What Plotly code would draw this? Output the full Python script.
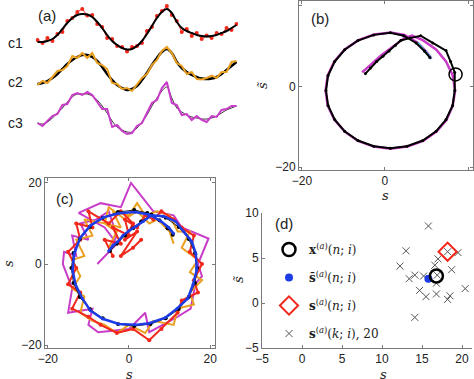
import plotly.graph_objects as go

W, H = 474, 379

# ---------------- panel (a): three channels, sample index 0..40 ----------------
t = list(range(41))
c1_true = [8, 8, 9, 11, 15, 21, 27, 32, 35, 36, 35.5, 33, 28, 22, 15, 9, 5, 2, 0.5, 1, 4, 9, 16, 24, 32, 38, 41, 37, 28, 22,
           19, 17, 15, 14, 13.5, 14, 15, 17, 19, 22, 25]
c1_obs = [10, 7, 12, 9, 16, 18, 29, 32, 38, 41, 34.5, 35, 26, 23, 12, 11, 4, 3, -1.5, 3, 4, 7, 19, 23, 34, 39, 44, 35, 29, 18,
          21, 14, 17, 11, 14.5, 12, 17, 16, 22, 20, 26]
c2_true = [11, 12, 14, 17, 21, 26, 31, 35, 38, 40, 40, 38, 34, 28, 21, 15, 10, 7, 5, 6, 9, 15, 22, 30, 37, 43, 46, 42, 33, 27,
           23, 20, 18, 16.5, 16, 16.5, 18, 21, 25, 29, 33]
c2_obs = [10, 14, 12, 18, 24, 25, 29, 39, 37, 42, 37, 42, 32, 30, 26, 12, 11, 6, 7, 4, 10, 17, 21, 30, 35, 44, 48, 42, 32, 29,
          21, 23, 16, 15.5, 17, 19.5, 17, 23, 23, 33, 34]
c3_true = [12, 11, 13, 17, 22, 27, 33, 38, 41, 41, 41, 39, 35, 29, 22, 14, 8, 5, 3, 3, 7, 13, 20, 29, 37, 44, 48, 37, 27, 23,
           20, 18, 17, 16, 16, 17, 19, 22, 25, 27, 29]
c3_obs = [12, 9, 14, 19, 21, 30, 31, 40, 42, 40, 43, 40, 33, 26, 26, 8, 10, 4, 1, 2, 9, 12, 22, 32, 35, 47, 53, 32, 30, 20,
          21, 15, 19, 15, 13, 19, 18, 25, 26, 29, 29]
channel_labels = ["c1", "c2", "c3"]
channel_offsets = [90, 45, 5]

# ---------------- panel (b): reconstructed trajectories ----------------
b_black_x = [-4.7, -3.5, -2, -0.5, 1, 2.5, 3.8, 6, 8.6, 11.5, 14.7, 15.8, 16.8, 16.8, 16.3, 14.7, 12.3, 9.1, 5.3, 1.3, -2.7,
             -6.5, -9.7, -12.1, -13.7, -14.2, -13.7, -12.1, -9.7, -6.5, -2.7, 1.3, 4.5, 7.5, 9.5, 10.8]
b_black_y = [3.2, 4.6, 6.2, 7.5, 8.8, 10.2, 11.4, 12.0, 12.6, 10.8, 8.9, 6.2, 3.5, -1, -4.7, -8.2, -11.1, -13.4, -14.8, -15.3,
             -14.8, -13.4, -11.1, -8.2, -4.7, -1, 2.7, 6.2, 9.1, 11.4, 12.8, 13.3, 12.6, 10.8, 8.8, 7.2]
b_mag_x = [-5.5, -4, -2.5, -0.8, 1, 2.8, 4.5, 6.5, 9.1, 12.3, 14.7, 16.3, 16.9, 16.3, 14.8, 12.4, 9.2, 5.4, 1.3, -2.7, -6.5,
           -9.7, -12.2, -13.8, -14.3, -13.8, -12.2, -9.7, -6.4, -2.6, 1.4, 4.7, 7.8, 9.9, 11.2]
b_mag_y = [3.5, 4.9, 6.4, 7.8, 9.2, 10.6, 11.9, 12.6, 11.5, 9.2, 6.2, 2.8, -1, -4.8, -8.3, -11.2, -13.5, -14.9, -15.4, -14.9,
           -13.5, -11.2, -8.2, -4.7, -1, 2.7, 6.2, 9.2, 11.5, 12.9, 13.4, 12.8, 10.9, 8.7, 6.9]
b_cyan_x = [7.8, 9.2, 10.3, 11.1]
b_cyan_y = [10.8, 9.3, 8.0, 6.9]
b_point_x = [17.0]
b_point_y = [3.0]

# ---------------- panel (c): noisy estimates ----------------
c_true_x = [-4.7, -3, -1, 1, 3, 5.5, 9.05, 12.26, 14.72, 16.27, 16.8, 16.27, 14.72, 12.26, 9.05, 5.31, 1.3, -2.71, -6.45,
            -9.66, -12.12, -13.67, -14.2, -13.67, -12.12, -9.66, -6.45, -2.71, 1.3, 4.5, 7.5, 9.5, 10.8]
c_true_y = [3.2, 5, 7, 8.8, 10.5, 12.2, 11.38, 9.11, 6.15, 2.7, -1, -4.7, -8.15, -11.11, -13.38, -14.81, -15.3, -14.81,
            -13.38, -11.11, -8.15, -4.7, -1, 2.7, 6.15, 9.11, 11.38, 12.81, 13.3, 12.6, 10.8, 8.8, 7.2]
c_red_x = [-4, -6, -2, -4, 0, -1, 2, 4, 6, 8, 11, 13, 16, 15, 18, 16, 17, 13, 12, 8, 5, 1, -3, -7, -10, -14, -12, -15, -13,
           -15, -12, -13, -9, -10, -5, -2, 1, -1, 2, -2, 1, 3]
c_red_y = [2, 6, 5, 9, 7, 11, 9, 12, 11, 13, 11, 9, 7, 3, 0, -4, -7, -9, -12, -16, -18.8, -16, -17, -15, -13, -11, -7, -5, -1,
           3, 6, 10, 9, 13, 10, 13, 10, 6, 8, 2, 4, 6]
c_orange_x = [-5, -3, -6, -2, -4, 0, 2, 4, 7, 10, 12, 15, 13, 17, 15, 18, 15, 16, 12, 11, 6, 4, 0, -3, -6, -9, -12, -11, -14,
              -12, -14, -11, -13, -9, -11, -6, -5, -1, 2, 5, 7, 10, 11]
c_orange_y = [4, 8, 10, 9, 13, 12, 15, 12, 13, 12, 8, 8, 4, 1, -2, -4, -7, -10, -11, -15, -14, -17, -15, -17, -15, -14, -12,
              -8, -6, -3, 1, 2, 6, 7, 11, 10, 14, 11, 13, 10, 11, 8, 5]
c_mag_x = [-7.8, -3, -6, -12.4, -7, -2, 0.5, 6, 11, 13, 19.6, 17, 18, 16.4, 15.2, 12, 5, 4, 0, -7.6, -10, -9, -15, -14, -16.3,
           -16, -13, -14, -10, -12, -8, -5, -3, -5]
c_mag_y = [0, 5, 9, 12.6, 15, 14, 20, 13, 12, 9, 6.3, 0, -3, -4.8, -11, -13, -16.8, -12, -16, -16.8, -15, -11, -12, -6, 0,
           3, 2, 7, 6, 10, 11, 13, 7, 3]
c_blue_x = [-5, -4, -2.8, -1.5, 0, 1.8, 3.5, 5.5, 8.5, 11.5, 13.5, 15.5, 16.5, 16.7, 15.8, 14.5, 11.8, 9, 5, 1.5, -2.5, -6.5,
            -9.5, -11.5, -13.2, -13.9, -13.5, -12, -9.5, -6.3, -2.5, 1.5, 4.8, 7.8, 9.8, 11]
c_blue_y = [3.2, 4.5, 5.5, 7, 8.2, 9.3, 10.5, 12, 11.8, 10.5, 8, 5.5, 2.5, -1.5, -5, -8.5, -11, -13.2, -14.6, -15, -14.8,
            -13.5, -11.5, -8.5, -5, -1.5, 2.5, 6.5, 9.5, 11.5, 12.5, 12.8, 12.2, 10.6, 9, 7.5]

# ---------------- panel (d): one time step ----------------
d_x_true = [16.8]
d_y_true = [3.0]
d_x_mean = [15.8]
d_y_mean = [2.7]
d_x_est = [18.2]
d_y_est = [5.7]
d_x_samp = [15.8, 13.0, 12.25, 13.4, 14.1, 15.2, 14.7, 15.5, 14.1, 16.8, 16.8, 16.6, 17.0, 18.5, 18.2, 18.7, 19.5, 20.4,
            16.9, 18.2]
d_y_samp = [8.56, 5.8, 4.1, 2.7, 3.1, 3.0, 1.4, 0.7, -1.6, 1.0, 2.2, 4.2, 4.9, 0.8, 0.4, 3.7, 5.6, 1.6, 3.1, 5.7]

legend_names = [
    "<b>x</b><sup>(<i>a</i>)</sup>(<i>n</i>; <i>i</i>)",
    "<b>s\u0304</b><sup>(<i>a</i>)</sup>(<i>n</i>; <i>i</i>)",
    "<b>s</b><sup>(<i>a</i>)</sup>(<i>n</i>; <i>i</i>)",
    "<b>s</b><sup>(<i>a</i>)</sup>(<i>k</i>; <i>i</i>), 20",
]

RED = "#F2281C"
ORANGE = "#E9A020"
MAG = "#C83CC8"
BLUE = "#1E3CE6"
CYAN = "#3CC8E6"
AX = "#7a7a7a"

fig = go.Figure()

# panel (a)
offs = channel_offsets
fig.add_trace(go.Scatter(x=t, y=[v + offs[0] for v in c1_obs], mode="lines+markers", line=dict(color=RED, width=1),
                         marker=dict(color=RED, size=4), xaxis="x", yaxis="y", showlegend=False))
fig.add_trace(go.Scatter(x=t, y=[v + offs[0] for v in c1_true], mode="lines", line=dict(color="black", width=2, shape="spline"),
                         xaxis="x", yaxis="y", showlegend=False))
fig.add_trace(go.Scatter(x=t, y=[v + offs[1] for v in c2_true], mode="lines", line=dict(color="black", width=2.5, shape="spline"),
                         xaxis="x", yaxis="y", showlegend=False))
fig.add_trace(go.Scatter(x=t, y=[v + offs[1] for v in c2_obs], mode="lines", line=dict(color=ORANGE, width=2),
                         xaxis="x", yaxis="y", showlegend=False))
fig.add_trace(go.Scatter(x=t, y=[v + offs[2] for v in c3_true], mode="lines", line=dict(color="#333", width=1, shape="spline"),
                         xaxis="x", yaxis="y", showlegend=False))
fig.add_trace(go.Scatter(x=t, y=[v + offs[2] for v in c3_obs], mode="lines", line=dict(color=MAG, width=2),
                         xaxis="x", yaxis="y", showlegend=False))

# panel (b)
fig.add_trace(go.Scatter(x=b_mag_x, y=b_mag_y, mode="lines", line=dict(color=MAG, width=2.5), xaxis="x2", yaxis="y2",
                         showlegend=False))
fig.add_trace(go.Scatter(x=b_cyan_x, y=b_cyan_y, mode="lines", line=dict(color=CYAN, width=2.5), xaxis="x2", yaxis="y2",
                         showlegend=False))
fig.add_trace(go.Scatter(x=b_black_x, y=b_black_y, mode="lines+markers", line=dict(color="black", width=2),
                         marker=dict(color="black", size=3), xaxis="x2", yaxis="y2", showlegend=False))
fig.add_trace(go.Scatter(x=b_point_x, y=b_point_y, mode="markers",
                         marker=dict(symbol="circle-open", size=13, color="black", line=dict(width=1.5)),
                         xaxis="x2", yaxis="y2", showlegend=False))

# panel (c)
fig.add_trace(go.Scatter(x=c_mag_x, y=c_mag_y, mode="lines", line=dict(color=MAG, width=2), xaxis="x3", yaxis="y3",
                         showlegend=False))
fig.add_trace(go.Scatter(x=c_orange_x, y=c_orange_y, mode="lines", line=dict(color=ORANGE, width=2), xaxis="x3", yaxis="y3",
                         showlegend=False))
fig.add_trace(go.Scatter(x=c_red_x, y=c_red_y, mode="lines+markers", line=dict(color=RED, width=2),
                         marker=dict(color=RED, size=4), xaxis="x3", yaxis="y3", showlegend=False))
fig.add_trace(go.Scatter(x=c_true_x, y=c_true_y, mode="lines+markers", line=dict(color="#222", width=1),
                         marker=dict(color="black", size=4), xaxis="x3", yaxis="y3", showlegend=False))
fig.add_trace(go.Scatter(x=c_blue_x, y=c_blue_y, mode="lines+markers", line=dict(color=BLUE, width=2.5),
                         marker=dict(color=BLUE, size=3), xaxis="x3", yaxis="y3", showlegend=False))

# panel (d)
fig.add_trace(go.Scatter(x=d_x_samp, y=d_y_samp, mode="markers", name=legend_names[3], legendgroup="g4", legendrank=4,
                         marker=dict(symbol="x-thin", size=7, color="#555", line=dict(width=1, color="#555")),
                         xaxis="x4", yaxis="y4"))
fig.add_trace(go.Scatter(x=d_x_mean, y=d_y_mean, mode="markers", name=legend_names[1], legendgroup="g2", legendrank=2,
                         marker=dict(symbol="circle", size=8, color=BLUE), xaxis="x4", yaxis="y4"))
fig.add_trace(go.Scatter(x=d_x_true, y=d_y_true, mode="markers", name=legend_names[0], legendgroup="g1", legendrank=1,
                         marker=dict(symbol="circle-open", size=13, color="black", line=dict(width=2.5)),
                         xaxis="x4", yaxis="y4"))
fig.add_trace(go.Scatter(x=d_x_est, y=d_y_est, mode="markers", name=legend_names[2], legendgroup="g3", legendrank=3,
                         marker=dict(symbol="diamond-open", size=14, color=RED, line=dict(width=2)),
                         xaxis="x4", yaxis="y4"))


def px_x(p):
    return p / W


def px_y(p):
    return 1 - p / H


tickfont = dict(family="Liberation Sans, Arial, sans-serif", size=12, color="#222")
box = dict(showline=True, linecolor=AX, linewidth=1, mirror="allticks", ticks="inside", ticklen=3, tickcolor=AX,
           showgrid=False, zeroline=False, tickfont=tickfont)

fig.update_layout(
    width=W, height=H, margin=dict(l=0, r=0, t=0, b=0, autoexpand=False),
    paper_bgcolor="white", plot_bgcolor="white",
    xaxis=dict(domain=[px_x(36), px_x(238)], range=[-0.3, 40.3], visible=False),
    yaxis=dict(domain=[px_y(140), px_y(0)], range=[0, 140], visible=False),
    xaxis2=dict(domain=[px_x(299), px_x(473)], range=[-20.7, 21.2], tickvals=[-20, 0, 20], anchor="y2", **box),
    yaxis2=dict(domain=[px_y(170), px_y(1)], range=[-20.7, 21.2], tickvals=[-20, 0, 20], anchor="x2", **box),
    xaxis3=dict(domain=[px_x(45), px_x(215)], range=[-20.7, 21.2], tickvals=[-20, 0, 20], anchor="y3", **box),
    yaxis3=dict(domain=[px_y(348), px_y(178)], range=[-20.7, 21.2], tickvals=[-20, 0, 20], anchor="x3", **box),
    xaxis4=dict(domain=[px_x(262), px_x(472)], range=[-5, 21.25], tickvals=[-5, 0, 5, 10, 15, 20], anchor="y4",
                showline=True, linecolor=AX, ticks="inside", ticklen=3, tickcolor=AX, showgrid=False, zeroline=False,
                tickfont=tickfont),
    yaxis4=dict(domain=[px_y(348), px_y(213)], range=[-5, 10], tickvals=[-5, 0, 5, 10], anchor="x4",
                showline=True, linecolor=AX, ticks="inside", ticklen=3, tickcolor=AX, showgrid=False, zeroline=False,
                tickfont=tickfont),
    showlegend=True,
    legend=dict(x=px_x(269), y=px_y(235), xanchor="left", yanchor="top", bgcolor="rgba(0,0,0,0)",
                font=dict(family="DejaVu Serif, serif", size=12, color="#222"), tracegroupgap=9, itemwidth=30),
)

ann = []
lab_font = dict(family="Liberation Sans, Arial, sans-serif", size=15, color="#222")
for txt, x, y in [("(a)", 47, 15), ("(b)", 320, 18), ("(c)", 65, 198), ("(d)", 284, 223)]:
    ann.append(dict(text=txt, x=px_x(x), y=px_y(y), xref="paper", yref="paper", showarrow=False, font=lab_font,
                    xanchor="center", yanchor="middle"))
for lab, y in zip(channel_labels, [43, 82, 123]):
    ann.append(dict(text=lab, x=px_x(15), y=px_y(y), xref="paper", yref="paper", showarrow=False,
                    xanchor="center", yanchor="middle",
                    font=dict(family="Liberation Sans, Arial, sans-serif", size=14, color="#222")))
sfont = dict(family="DejaVu Serif, serif", size=13, color="#222")
for txt, x, y, ang in [("<i>s</i>", 385, 195, 0), ("<i>s\u0303</i>", 263, 86, -90),
                       ("<i>s</i>", 129, 374, 0), ("<i>s</i>", 8, 263, -90),
                       ("<i>s</i>", 383, 374, 0), ("<i>s\u0303</i>", 238, 280, -90)]:
    ann.append(dict(text=txt, x=px_x(x), y=px_y(y), xref="paper", yref="paper", showarrow=False, font=sfont,
                    textangle=ang, xanchor="center", yanchor="middle"))
fig.update_layout(annotations=ann)

fig.write_html("out.html", config={"displayModeBar": False},
               post_script="document.body.style.margin='0px';document.body.style.padding='0px';")
